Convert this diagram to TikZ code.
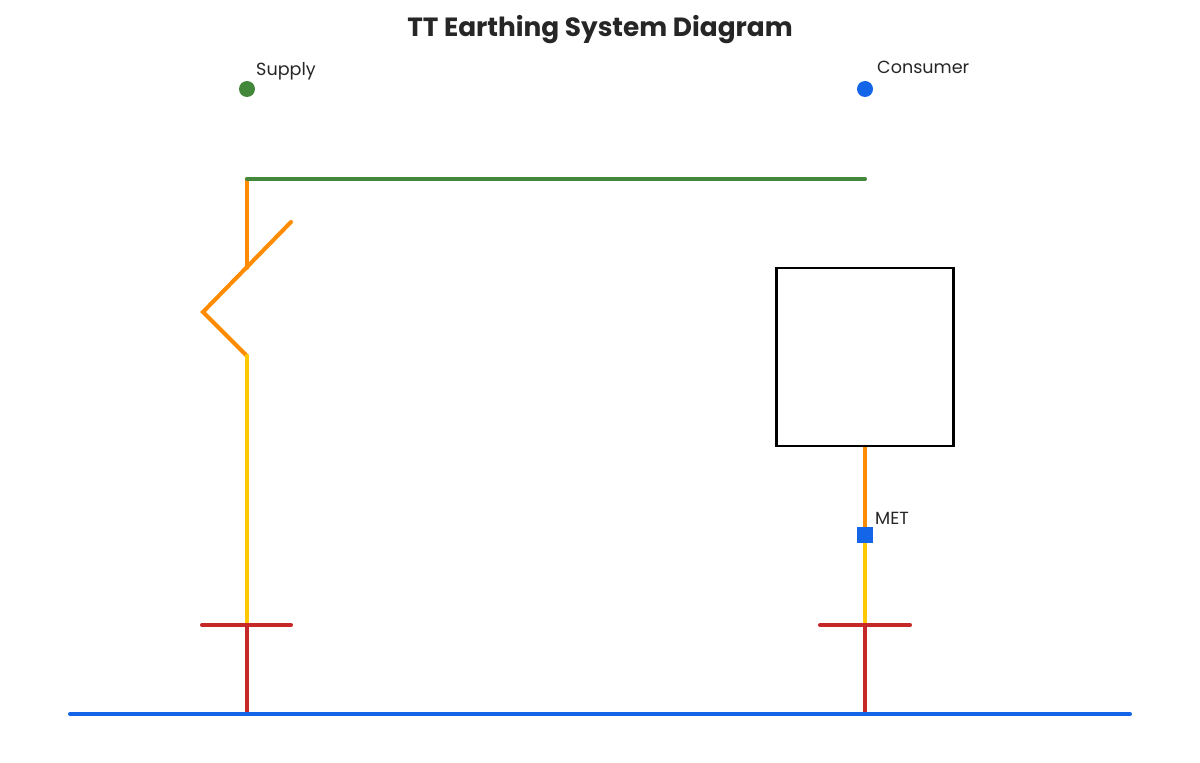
\documentclass[tikz,border=0pt]{standalone}
\usepackage{fontspec}
\setmainfont{Poppins}
\definecolor{sgreen}{HTML}{43883A}
\definecolor{sblue}{HTML}{1565E8}
\definecolor{sorange}{HTML}{FF8C00}
\definecolor{syellow}{HTML}{FFC800}
\definecolor{sred}{HTML}{C62828}
\begin{document}
\begin{tikzpicture}[x=0.02cm,y=-0.02cm,
  wire/.style={line width=2.3pt,line cap=round},
  dot/.style={circle,inner sep=0pt,minimum size=0.32cm},
  lab/.style={anchor=west,font=\fontsize{10}{12}\selectfont,text=black!85}]
\useasboundingbox (0,0) rectangle (1200,763);
\node[font=\fontsize{15}{18}\selectfont\bfseries,text=black!85] (title) at (600,30) {TT Earthing System Diagram};
\node[dot,fill=sgreen] (sup) at (247,89) {};
\node[lab] (suplab) at (250,71) {Supply};
\node[dot,fill=sblue] (con) at (865,89) {};
\node[lab] (conlab) at (871,67) {Consumer};
\coordinate (a) at (247,179); \coordinate (b) at (865,179);
\coordinate (s1) at (247,268); \coordinate (s0) at (291,222);
\coordinate (s2) at (203,312); \coordinate (s3) at (247,356);
\coordinate (e1) at (247,625); \coordinate (g1) at (247,714);
\coordinate (e2) at (865,625); \coordinate (g2) at (865,714);
\coordinate (gl) at (70,714); \coordinate (gr) at (1130,714);
\draw[wire,sorange] (a) -- (s1);
\draw[wire,sorange] (s0) -- (s2) -- (s3);
\draw[wire,syellow] (s3) -- (e1);
\draw[wire,sred] (202,625) -- (291,625);
\draw[wire,sred] (e1) -- (g1);
\node[draw=black,line width=1.2pt,minimum width=3.54cm,minimum height=3.56cm,inner sep=0pt] (box) at (865,357) {};
\coordinate (m) at (865,535);
\draw[wire,sorange,line cap=butt] (box.south) -- (m);
\draw[wire,syellow,line cap=butt] (m) -- (e2);
\node[fill=sblue,minimum width=0.32cm,minimum height=0.32cm,inner sep=0pt] (met) at (m) {};
\node[lab] (metlab) at (869,518) {MET};
\draw[wire,sred] (820,625) -- (910,625);
\draw[wire,sred] (e2) -- (g2);
\draw[wire,sblue] (gl) -- (gr);
\draw[wire,sgreen] (a) -- (b);
\end{tikzpicture}
\end{document}
